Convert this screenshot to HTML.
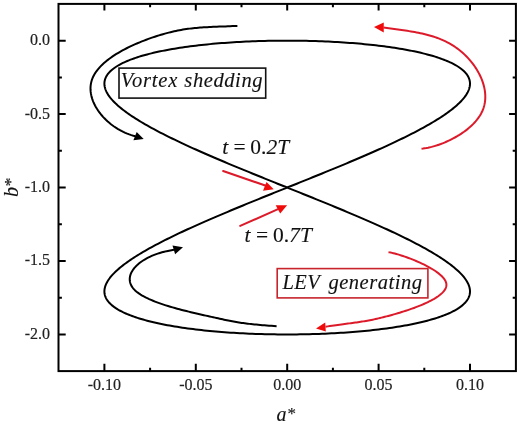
<!DOCTYPE html>
<html><head><meta charset="utf-8"><style>
html,body{margin:0;padding:0;background:#fff;}
svg{display:block;}
</style></head><body>
<svg width="520" height="424" viewBox="0 0 520 424">
<polyline points="287.20,40.65 290.39,40.66 293.58,40.67 296.77,40.70 299.95,40.74 303.13,40.79 306.31,40.85 309.48,40.92 312.64,41.01 315.80,41.10 318.94,41.21 322.08,41.33 325.21,41.45 328.32,41.59 331.42,41.74 334.51,41.91 337.59,42.08 340.65,42.26 343.69,42.46 346.71,42.66 349.72,42.88 352.71,43.11 355.68,43.35 358.63,43.60 361.55,43.86 364.45,44.13 367.33,44.42 370.19,44.71 373.02,45.01 375.82,45.33 378.60,45.66 381.35,45.99 384.07,46.34 386.76,46.70 389.42,47.07 392.05,47.45 394.65,47.84 397.21,48.24 399.74,48.65 402.24,49.08 404.70,49.51 407.13,49.95 409.52,50.41 411.87,50.87 414.18,51.35 416.46,51.83 418.70,52.33 420.89,52.83 423.05,53.35 425.16,53.88 427.23,54.41 429.26,54.96 431.25,55.52 433.19,56.08 435.09,56.66 436.94,57.25 438.75,57.84 440.51,58.45 442.22,59.07 443.89,59.69 445.51,60.33 447.08,60.98 448.60,61.63 450.08,62.30 451.50,62.97 452.87,63.66 454.20,64.35 455.47,65.05 456.69,65.76 457.86,66.49 458.98,67.22 460.04,67.96 461.05,68.71 462.01,69.46 462.92,70.23 463.77,71.01 464.57,71.79 465.31,72.58 466.01,73.39 466.64,74.20 467.22,75.02 467.75,75.85 468.22,76.68 468.64,77.53 469.00,78.38 469.30,79.24 469.55,80.11 469.75,80.99 469.89,81.88 469.97,82.77 470.00,83.68 469.97,84.59 469.89,85.50 469.75,86.43 469.55,87.36 469.30,88.31 469.00,89.25 468.64,90.21 468.22,91.17 467.75,92.15 467.22,93.12 466.64,94.11 466.01,95.10 465.31,96.10 464.57,97.11 463.77,98.12 462.92,99.14 462.01,100.17 461.05,101.20 460.04,102.24 458.98,103.29 457.86,104.34 456.69,105.40 455.47,106.47 454.20,107.54 452.87,108.62 451.50,109.70 450.08,110.79 448.60,111.89 447.08,112.99 445.51,114.10 443.89,115.21 442.22,116.33 440.51,117.46 438.75,118.58 436.94,119.72 435.09,120.86 433.19,122.00 431.25,123.15 429.26,124.31 427.23,125.47 425.16,126.63 423.05,127.80 420.89,128.97 418.70,130.15 416.46,131.33 414.18,132.52 411.87,133.71 409.52,134.91 407.13,136.10 404.70,137.31 402.24,138.51 399.74,139.72 397.21,140.94 394.65,142.16 392.05,143.38 389.42,144.60 386.76,145.83 384.07,147.06 381.35,148.29 378.60,149.53 375.82,150.77 373.02,152.01 370.19,153.26 367.33,154.50 364.45,155.76 361.55,157.01 358.63,158.26 355.68,159.52 352.71,160.78 349.72,162.04 346.71,163.30 343.69,164.57 340.65,165.84 337.59,167.11 334.51,168.38 331.42,169.65 328.32,170.92 325.21,172.19 322.08,173.47 318.94,174.75 315.80,176.02 312.64,177.30 309.48,178.58 306.31,179.86 303.13,181.14 299.95,182.42 296.77,183.70 293.58,184.99 290.39,186.27 287.20,187.55 284.01,188.83 280.82,190.11 277.63,191.40 274.45,192.68 271.27,193.96 268.09,195.24 264.92,196.52 261.76,197.80 258.60,199.08 255.46,200.35 252.32,201.63 249.19,202.91 246.08,204.18 242.98,205.45 239.89,206.72 236.81,207.99 233.75,209.26 230.71,210.53 227.69,211.80 224.68,213.06 221.69,214.32 218.72,215.58 215.77,216.84 212.85,218.09 209.95,219.34 207.07,220.60 204.21,221.84 201.38,223.09 198.58,224.33 195.80,225.57 193.05,226.81 190.33,228.04 187.64,229.27 184.98,230.50 182.35,231.72 179.75,232.94 177.19,234.16 174.66,235.38 172.16,236.59 169.70,237.79 167.27,239.00 164.88,240.19 162.53,241.39 160.22,242.58 157.94,243.77 155.70,244.95 153.51,246.13 151.35,247.30 149.24,248.47 147.17,249.63 145.14,250.79 143.15,251.95 141.21,253.10 139.31,254.24 137.46,255.38 135.65,256.52 133.89,257.64 132.18,258.77 130.51,259.89 128.89,261.00 127.32,262.11 125.80,263.21 124.32,264.31 122.90,265.40 121.53,266.48 120.20,267.56 118.93,268.63 117.71,269.70 116.54,270.76 115.42,271.81 114.36,272.86 113.35,273.90 112.39,274.93 111.48,275.96 110.63,276.98 109.83,277.99 109.09,279.00 108.39,280.00 107.76,280.99 107.18,281.98 106.65,282.95 106.18,283.93 105.76,284.89 105.40,285.85 105.10,286.79 104.85,287.74 104.65,288.67 104.51,289.60 104.43,290.51 104.40,291.42 104.43,292.33 104.51,293.22 104.65,294.11 104.85,294.99 105.10,295.86 105.40,296.72 105.76,297.57 106.18,298.42 106.65,299.25 107.18,300.08 107.76,300.90 108.39,301.71 109.09,302.52 109.83,303.31 110.63,304.09 111.48,304.87 112.39,305.64 113.35,306.39 114.36,307.14 115.42,307.88 116.54,308.61 117.71,309.34 118.93,310.05 120.20,310.75 121.53,311.44 122.90,312.13 124.32,312.80 125.80,313.47 127.32,314.12 128.89,314.77 130.51,315.41 132.18,316.03 133.89,316.65 135.65,317.26 137.46,317.85 139.31,318.44 141.21,319.02 143.15,319.58 145.14,320.14 147.17,320.69 149.24,321.22 151.35,321.75 153.51,322.27 155.70,322.77 157.94,323.27 160.22,323.75 162.53,324.23 164.88,324.69 167.27,325.15 169.70,325.59 172.16,326.02 174.66,326.45 177.19,326.86 179.75,327.26 182.35,327.65 184.98,328.03 187.64,328.40 190.33,328.76 193.05,329.11 195.80,329.44 198.58,329.77 201.38,330.09 204.21,330.39 207.07,330.68 209.95,330.97 212.85,331.24 215.77,331.50 218.72,331.75 221.69,331.99 224.68,332.22 227.69,332.44 230.71,332.64 233.75,332.84 236.81,333.02 239.89,333.19 242.98,333.36 246.08,333.51 249.19,333.65 252.32,333.77 255.46,333.89 258.60,334.00 261.76,334.09 264.92,334.18 268.09,334.25 271.27,334.31 274.45,334.36 277.63,334.40 280.82,334.43 284.01,334.44 287.20,334.45 290.39,334.44 293.58,334.43 296.77,334.40 299.95,334.36 303.13,334.31 306.31,334.25 309.48,334.18 312.64,334.09 315.80,334.00 318.94,333.89 322.08,333.77 325.21,333.65 328.32,333.51 331.42,333.36 334.51,333.19 337.59,333.02 340.65,332.84 343.69,332.64 346.71,332.44 349.72,332.22 352.71,331.99 355.68,331.75 358.63,331.50 361.55,331.24 364.45,330.97 367.33,330.68 370.19,330.39 373.02,330.09 375.82,329.77 378.60,329.44 381.35,329.11 384.07,328.76 386.76,328.40 389.42,328.03 392.05,327.65 394.65,327.26 397.21,326.86 399.74,326.45 402.24,326.02 404.70,325.59 407.13,325.15 409.52,324.69 411.87,324.23 414.18,323.75 416.46,323.27 418.70,322.77 420.89,322.27 423.05,321.75 425.16,321.22 427.23,320.69 429.26,320.14 431.25,319.58 433.19,319.02 435.09,318.44 436.94,317.85 438.75,317.26 440.51,316.65 442.22,316.03 443.89,315.41 445.51,314.77 447.08,314.12 448.60,313.47 450.08,312.80 451.50,312.13 452.87,311.44 454.20,310.75 455.47,310.05 456.69,309.34 457.86,308.61 458.98,307.88 460.04,307.14 461.05,306.39 462.01,305.64 462.92,304.87 463.77,304.09 464.57,303.31 465.31,302.52 466.01,301.71 466.64,300.90 467.22,300.08 467.75,299.25 468.22,298.42 468.64,297.57 469.00,296.72 469.30,295.86 469.55,294.99 469.75,294.11 469.89,293.22 469.97,292.33 470.00,291.42 469.97,290.51 469.89,289.60 469.75,288.67 469.55,287.74 469.30,286.79 469.00,285.85 468.64,284.89 468.22,283.93 467.75,282.95 467.22,281.98 466.64,280.99 466.01,280.00 465.31,279.00 464.57,277.99 463.77,276.98 462.92,275.96 462.01,274.93 461.05,273.90 460.04,272.86 458.98,271.81 457.86,270.76 456.69,269.70 455.47,268.63 454.20,267.56 452.87,266.48 451.50,265.40 450.08,264.31 448.60,263.21 447.08,262.11 445.51,261.00 443.89,259.89 442.22,258.77 440.51,257.64 438.75,256.52 436.94,255.38 435.09,254.24 433.19,253.10 431.25,251.95 429.26,250.79 427.23,249.63 425.16,248.47 423.05,247.30 420.89,246.13 418.70,244.95 416.46,243.77 414.18,242.58 411.87,241.39 409.52,240.19 407.13,239.00 404.70,237.79 402.24,236.59 399.74,235.38 397.21,234.16 394.65,232.94 392.05,231.72 389.42,230.50 386.76,229.27 384.07,228.04 381.35,226.81 378.60,225.57 375.82,224.33 373.02,223.09 370.19,221.84 367.33,220.60 364.45,219.34 361.55,218.09 358.63,216.84 355.68,215.58 352.71,214.32 349.72,213.06 346.71,211.80 343.69,210.53 340.65,209.26 337.59,207.99 334.51,206.72 331.42,205.45 328.32,204.18 325.21,202.91 322.08,201.63 318.94,200.35 315.80,199.08 312.64,197.80 309.48,196.52 306.31,195.24 303.13,193.96 299.95,192.68 296.77,191.40 293.58,190.11 290.39,188.83 287.20,187.55 284.01,186.27 280.82,184.99 277.63,183.70 274.45,182.42 271.27,181.14 268.09,179.86 264.92,178.58 261.76,177.30 258.60,176.02 255.46,174.75 252.32,173.47 249.19,172.19 246.08,170.92 242.98,169.65 239.89,168.38 236.81,167.11 233.75,165.84 230.71,164.57 227.69,163.30 224.68,162.04 221.69,160.78 218.72,159.52 215.77,158.26 212.85,157.01 209.95,155.76 207.07,154.50 204.21,153.26 201.38,152.01 198.58,150.77 195.80,149.53 193.05,148.29 190.33,147.06 187.64,145.83 184.98,144.60 182.35,143.38 179.75,142.16 177.19,140.94 174.66,139.72 172.16,138.51 169.70,137.31 167.27,136.10 164.88,134.91 162.53,133.71 160.22,132.52 157.94,131.33 155.70,130.15 153.51,128.97 151.35,127.80 149.24,126.63 147.17,125.47 145.14,124.31 143.15,123.15 141.21,122.00 139.31,120.86 137.46,119.72 135.65,118.58 133.89,117.46 132.18,116.33 130.51,115.21 128.89,114.10 127.32,112.99 125.80,111.89 124.32,110.79 122.90,109.70 121.53,108.62 120.20,107.54 118.93,106.47 117.71,105.40 116.54,104.34 115.42,103.29 114.36,102.24 113.35,101.20 112.39,100.17 111.48,99.14 110.63,98.12 109.83,97.11 109.09,96.10 108.39,95.10 107.76,94.11 107.18,93.12 106.65,92.15 106.18,91.17 105.76,90.21 105.40,89.25 105.10,88.31 104.85,87.36 104.65,86.43 104.51,85.50 104.43,84.59 104.40,83.68 104.43,82.77 104.51,81.88 104.65,80.99 104.85,80.11 105.10,79.24 105.40,78.38 105.76,77.53 106.18,76.68 106.65,75.85 107.18,75.02 107.76,74.20 108.39,73.39 109.09,72.58 109.83,71.79 110.63,71.01 111.48,70.23 112.39,69.46 113.35,68.71 114.36,67.96 115.42,67.22 116.54,66.49 117.71,65.76 118.93,65.05 120.20,64.35 121.53,63.66 122.90,62.97 124.32,62.30 125.80,61.63 127.32,60.98 128.89,60.33 130.51,59.69 132.18,59.07 133.89,58.45 135.65,57.84 137.46,57.25 139.31,56.66 141.21,56.08 143.15,55.52 145.14,54.96 147.17,54.41 149.24,53.88 151.35,53.35 153.51,52.83 155.70,52.33 157.94,51.83 160.22,51.35 162.53,50.87 164.88,50.41 167.27,49.95 169.70,49.51 172.16,49.08 174.66,48.65 177.19,48.24 179.75,47.84 182.35,47.45 184.98,47.07 187.64,46.70 190.33,46.34 193.05,45.99 195.80,45.66 198.58,45.33 201.38,45.01 204.21,44.71 207.07,44.42 209.95,44.13 212.85,43.86 215.77,43.60 218.72,43.35 221.69,43.11 224.68,42.88 227.69,42.66 230.71,42.46 233.75,42.26 236.81,42.08 239.89,41.91 242.98,41.74 246.08,41.59 249.19,41.45 252.32,41.33 255.46,41.21 258.60,41.10 261.76,41.01 264.92,40.92 268.09,40.85 271.27,40.79 274.45,40.74 277.63,40.70 280.82,40.67 284.01,40.66 287.20,40.65" fill="none" stroke="#000" stroke-width="2" stroke-linejoin="round"/>
<path d="M104.40,371.10V363.70 M104.40,3.90V10.50 M195.80,371.10V363.70 M195.80,3.90V10.50 M287.20,371.10V363.70 M287.20,3.90V10.50 M378.60,371.10V363.70 M378.60,3.90V10.50 M470.00,371.10V363.70 M470.00,3.90V10.50 M150.10,371.10V367.70 M150.10,3.90V7.30 M241.50,371.10V367.70 M241.50,3.90V7.30 M332.90,371.10V367.70 M332.90,3.90V7.30 M424.30,371.10V367.70 M424.30,3.90V7.30 M58.50,40.65H65.70 M515.90,40.65H509.10 M58.50,114.10H65.70 M515.90,114.10H509.10 M58.50,187.55H65.70 M515.90,187.55H509.10 M58.50,261.00H65.70 M515.90,261.00H509.10 M58.50,334.45H65.70 M515.90,334.45H509.10 M58.50,77.38H61.90 M515.90,77.38H512.70 M58.50,150.83H61.90 M515.90,150.83H512.70 M58.50,224.28H61.90 M515.90,224.28H512.70 M58.50,297.72H61.90 M515.90,297.72H512.70" stroke="#000" stroke-width="2" fill="none"/>
<rect x="58.50" y="3.90" width="457.40" height="367.20" fill="none" stroke="#000" stroke-width="2"/>
<g font-family="Liberation Serif, serif" font-size="16" fill="#222" stroke="#222" stroke-width="0.18"><text x="50.1" y="45.05" text-anchor="end">0.0</text><text x="50.1" y="118.50" text-anchor="end">-0.5</text><text x="50.1" y="191.95" text-anchor="end">-1.0</text><text x="50.1" y="265.40" text-anchor="end">-1.5</text><text x="50.1" y="338.85" text-anchor="end">-2.0</text><text x="104.40" y="390.3" text-anchor="middle">-0.10</text><text x="195.80" y="390.3" text-anchor="middle">-0.05</text><text x="287.20" y="390.3" text-anchor="middle">0.00</text><text x="378.60" y="390.3" text-anchor="middle">0.05</text><text x="470.00" y="390.3" text-anchor="middle">0.10</text></g>
<text x="276.5" y="420.9" font-family="Liberation Serif, serif" font-size="20" fill="#111" stroke="#111" stroke-width="0.12"><tspan font-style="italic">a</tspan><tspan font-size="17" dx="0.9" dy="-1.6">*</tspan></text>
<text transform="translate(17.9,196.9) rotate(-90)" font-family="Liberation Serif, serif" font-size="20" fill="#111" stroke="#111" stroke-width="0.12"><tspan font-style="italic">b</tspan><tspan font-size="17" dx="0.6" dy="-1.6">*</tspan></text>
<path d="M237.40,25.90 L234.90,26.01 L232.47,26.11 L230.09,26.20 L227.78,26.29 L225.52,26.38 L223.32,26.46 L221.16,26.54 L219.06,26.62 L217.00,26.70 L214.98,26.78 L213.00,26.87 L211.06,26.95 L209.15,27.05 L207.28,27.14 L205.43,27.25 L203.61,27.36 L201.82,27.48 L200.05,27.60 L198.29,27.74 L196.55,27.89 L194.83,28.05 L193.11,28.23 L191.40,28.42 L189.70,28.62 L188.00,28.84 L186.30,29.08 L184.60,29.34 L182.89,29.61 L181.17,29.91 L179.45,30.22 L177.71,30.56 L175.95,30.92 L174.17,31.31 L172.37,31.72 L170.55,32.16 L168.70,32.62 L166.82,33.12 L164.91,33.64 L162.96,34.19 L160.98,34.77 L158.96,35.39 L156.90,36.04 L154.81,36.71 L152.70,37.42 L150.56,38.16 L148.41,38.93 L146.24,39.73 L144.06,40.56 L141.87,41.42 L139.68,42.31 L137.48,43.23 L135.30,44.18 L133.12,45.15 L130.95,46.16 L128.80,47.19 L126.66,48.25 L124.55,49.34 L122.47,50.46 L120.42,51.60 L118.41,52.77 L116.43,53.97 L114.50,55.19 L112.61,56.44 L110.78,57.71 L108.99,59.01 L107.27,60.34 L105.61,61.69 L104.01,63.06 L102.49,64.46 L101.04,65.89 L99.66,67.33 L98.37,68.81 L97.16,70.30 L96.04,71.82 L95.02,73.36 L94.09,74.93 L93.26,76.51 L92.54,78.12 L91.92,79.76 L91.42,81.41 L91.03,83.08 L90.75,84.77 L90.57,86.48 L90.50,88.19 L90.53,89.92 L90.67,91.66 L90.90,93.39 L91.22,95.14 L91.64,96.88 L92.15,98.61 L92.75,100.35 L93.43,102.07 L94.20,103.78 L95.04,105.49 L95.97,107.17 L96.97,108.84 L98.05,110.48 L99.19,112.11 L100.41,113.70 L101.69,115.27 L103.04,116.81 L104.44,118.31 L105.91,119.78 L107.43,121.21 L109.01,122.60 L110.64,123.94 L112.32,125.24 L114.05,126.49 L115.82,127.69 L117.64,128.84 L119.50,129.93 L121.39,130.95 L123.32,131.92 L125.28,132.83 L127.27,133.67 L129.29,134.43 L131.34,135.13 L133.41,135.75 L135.50,136.30" fill="none" stroke="#000" stroke-width="2.0"/>
<polygon points="136.70,132.10 133.40,140.30 143.70,139.00" fill="#000"/>
<path d="M421.50,148.80 L423.10,148.61 L424.75,148.36 L426.42,148.07 L428.13,147.73 L429.87,147.34 L431.64,146.90 L433.43,146.41 L435.23,145.88 L437.06,145.31 L438.89,144.69 L440.74,144.03 L442.59,143.32 L444.44,142.58 L446.29,141.79 L448.14,140.96 L449.98,140.09 L451.80,139.18 L453.62,138.23 L455.41,137.25 L457.19,136.23 L458.94,135.17 L460.66,134.07 L462.35,132.94 L464.01,131.78 L465.63,130.59 L467.21,129.36 L468.74,128.10 L470.23,126.80 L471.67,125.48 L473.05,124.13 L474.37,122.75 L475.63,121.34 L476.83,119.90 L477.96,118.44 L479.02,116.94 L480.00,115.43 L480.91,113.89 L481.74,112.32 L482.48,110.74 L483.13,109.13 L483.70,107.49 L484.17,105.84 L484.56,104.17 L484.87,102.49 L485.09,100.79 L485.23,99.08 L485.29,97.35 L485.28,95.62 L485.19,93.88 L485.02,92.14 L484.79,90.39 L484.48,88.64 L484.10,86.89 L483.65,85.14 L483.14,83.40 L482.57,81.66 L481.93,79.92 L481.23,78.20 L480.47,76.49 L479.66,74.79 L478.79,73.10 L477.87,71.43 L476.89,69.78 L475.86,68.15 L474.79,66.53 L473.66,64.95 L472.49,63.38 L471.28,61.85 L470.03,60.34 L468.73,58.86 L467.40,57.42 L466.03,56.00 L464.62,54.63 L463.19,53.29 L461.71,51.99 L460.21,50.73 L458.68,49.52 L457.13,48.35 L455.54,47.22 L453.94,46.14 L452.31,45.12 L450.66,44.13 L448.99,43.20 L447.30,42.30 L445.60,41.45 L443.87,40.64 L442.13,39.87 L440.37,39.13 L438.60,38.44 L436.82,37.78 L435.02,37.15 L433.21,36.55 L431.39,35.99 L429.56,35.45 L427.73,34.95 L425.88,34.47 L424.03,34.01 L422.17,33.58 L420.31,33.17 L418.44,32.79 L416.57,32.42 L414.70,32.07 L412.82,31.74 L410.95,31.42 L409.08,31.12 L407.21,30.83 L405.34,30.56 L403.48,30.29 L401.62,30.03 L399.76,29.78 L397.92,29.53 L396.08,29.29 L394.25,29.05 L392.43,28.81 L390.62,28.58 L388.82,28.34 L387.03,28.10 L385.26,27.85 L383.50,27.60" fill="none" stroke="#dc1a2a" stroke-width="2.0"/>
<polygon points="383.75,22.60 383.75,32.40 374.00,27.00" fill="#f00a0a"/>
<path d="M276.60,326.20 L273.97,326.02 L271.45,325.84 L269.03,325.67 L266.70,325.49 L264.47,325.32 L262.32,325.14 L260.26,324.97 L258.27,324.79 L256.36,324.61 L254.52,324.43 L252.74,324.25 L251.03,324.07 L249.37,323.88 L247.76,323.70 L246.20,323.50 L244.68,323.31 L243.20,323.11 L241.76,322.90 L240.35,322.69 L238.96,322.48 L237.59,322.26 L236.24,322.03 L234.90,321.80 L233.56,321.56 L232.23,321.31 L230.90,321.05 L229.57,320.79 L228.22,320.52 L226.86,320.24 L225.48,319.95 L224.07,319.65 L222.64,319.34 L221.17,319.02 L219.67,318.69 L218.13,318.35 L216.54,317.99 L214.90,317.63 L213.21,317.25 L211.45,316.86 L209.64,316.45 L207.76,316.04 L205.82,315.61 L203.82,315.16 L201.77,314.70 L199.68,314.23 L197.54,313.74 L195.37,313.24 L193.16,312.73 L190.92,312.19 L188.66,311.65 L186.39,311.09 L184.09,310.51 L181.79,309.92 L179.48,309.31 L177.17,308.69 L174.87,308.05 L172.57,307.40 L170.29,306.73 L168.02,306.04 L165.77,305.33 L163.55,304.61 L161.37,303.87 L159.22,303.12 L157.10,302.35 L155.04,301.56 L153.02,300.75 L151.06,299.92 L149.15,299.08 L147.31,298.22 L145.54,297.34 L143.84,296.44 L142.21,295.52 L140.67,294.59 L139.21,293.63 L137.85,292.66 L136.58,291.67 L135.40,290.65 L134.34,289.62 L133.38,288.57 L132.53,287.50 L131.80,286.41 L131.19,285.30 L130.68,284.18 L130.28,283.04 L129.99,281.89 L129.81,280.74 L129.73,279.57 L129.76,278.40 L129.89,277.23 L130.11,276.06 L130.44,274.88 L130.87,273.71 L131.39,272.54 L132.01,271.38 L132.72,270.23 L133.52,269.08 L134.42,267.95 L135.40,266.83 L136.47,265.73 L137.63,264.64 L138.87,263.57 L140.19,262.53 L141.60,261.50 L143.09,260.50 L144.65,259.53 L146.29,258.59 L148.01,257.68 L149.80,256.80 L151.67,255.95 L153.60,255.14 L155.61,254.37 L157.68,253.64 L159.83,252.95 L162.03,252.30 L164.30,251.70 L166.64,251.15 L169.03,250.65 L171.49,250.20 L174.00,249.80" fill="none" stroke="#000" stroke-width="2.0"/>
<polygon points="172.50,245.40 175.10,254.20 183.00,247.30" fill="#000"/>
<path d="M388.50,252.20 L389.56,252.37 L390.72,252.59 L391.99,252.87 L393.34,253.19 L394.77,253.55 L396.29,253.96 L397.87,254.41 L399.52,254.91 L401.22,255.44 L402.98,256.01 L404.78,256.62 L406.61,257.27 L408.48,257.95 L410.37,258.66 L412.28,259.41 L414.20,260.18 L416.13,260.99 L418.05,261.82 L419.97,262.67 L421.86,263.55 L423.74,264.45 L425.59,265.38 L427.40,266.32 L429.17,267.28 L430.89,268.26 L432.56,269.25 L434.16,270.26 L435.70,271.28 L437.16,272.31 L438.54,273.35 L439.83,274.40 L441.02,275.46 L442.12,276.52 L443.10,277.58 L443.98,278.65 L444.72,279.72 L445.35,280.78 L445.83,281.85 L446.18,282.91 L446.38,283.96 L446.42,285.01 L446.33,286.05 L446.09,287.09 L445.72,288.12 L445.21,289.14 L444.59,290.15 L443.84,291.15 L442.98,292.15 L442.01,293.13 L440.94,294.11 L439.77,295.07 L438.50,296.02 L437.15,296.96 L435.72,297.89 L434.20,298.81 L432.62,299.71 L430.97,300.60 L429.25,301.48 L427.48,302.34 L425.66,303.19 L423.80,304.02 L421.89,304.84 L419.94,305.64 L417.97,306.42 L415.97,307.19 L413.95,307.94 L411.91,308.67 L409.87,309.39 L407.82,310.09 L405.77,310.76 L403.73,311.42 L401.70,312.06 L399.69,312.68 L397.70,313.27 L395.73,313.85 L393.80,314.40 L391.90,314.93 L390.05,315.44 L388.24,315.93 L386.49,316.39 L384.79,316.83 L383.14,317.25 L381.54,317.65 L379.98,318.02 L378.45,318.38 L376.96,318.72 L375.51,319.05 L374.08,319.36 L372.68,319.65 L371.30,319.93 L369.94,320.20 L368.59,320.45 L367.26,320.70 L365.93,320.93 L364.61,321.16 L363.29,321.38 L361.97,321.59 L360.64,321.80 L359.30,322.00 L357.96,322.20 L356.59,322.40 L355.21,322.59 L353.81,322.79 L352.37,322.98 L350.91,323.18 L349.42,323.38 L347.89,323.58 L346.33,323.79 L344.71,324.01 L343.06,324.23 L341.35,324.46 L339.59,324.70 L337.77,324.95 L335.90,325.20 L333.96,325.48 L331.95,325.76 L329.88,326.06 L327.73,326.37 L325.50,326.70" fill="none" stroke="#dc1a2a" stroke-width="2.0"/>
<polygon points="325.20,322.60 325.80,331.40 316.00,328.50" fill="#f00a0a"/>
<path d="M223.1,171 L266,185.8" stroke="#dc1a2a" stroke-width="2" stroke-linecap="round"/>
<polygon points="266.50,182.00 263.00,190.80 273.70,189.20" fill="#f00a0a"/>
<path d="M240.2,225.9 L278,209.2" stroke="#dc1a2a" stroke-width="2" stroke-linecap="round"/>
<polygon points="275.70,205.20 280.20,213.40 287.10,205.20" fill="#f00a0a"/>
<rect x="119" y="68.1" width="146.7" height="30" fill="#fff" stroke="#111" stroke-width="1.6"/>
<g font-family="Liberation Serif, serif" font-style="italic" font-size="20.5" fill="#111" stroke="#111" stroke-width="0.12"><text x="120.8" y="87.4" letter-spacing="0.83">Vortex</text><text x="184.35" y="87.4" letter-spacing="0.586">shedding</text></g>
<rect x="277.2" y="268.6" width="150.7" height="29.3" fill="#fff" stroke="#c8242c" stroke-width="1.6"/>
<g font-family="Liberation Serif, serif" font-style="italic" font-size="20.5" fill="#111" stroke="#111" stroke-width="0.12"><text x="282.55" y="288.6" letter-spacing="0.35">LEV</text><text x="328.4" y="288.6" letter-spacing="0.539">generating</text></g>
<text x="222.2" y="154.4" font-family="Liberation Serif, serif" font-size="21.5" fill="#111" stroke="#111" stroke-width="0.12"><tspan font-style="italic">t</tspan> = <tspan dx="-0.8">0.</tspan><tspan font-style="italic">2T</tspan></text>
<text x="244.6" y="241.5" font-family="Liberation Serif, serif" font-size="21.5" fill="#111" stroke="#111" stroke-width="0.12"><tspan font-style="italic">t</tspan> = <tspan dx="-0.4">0.</tspan><tspan font-style="italic">7T</tspan></text>
</svg>
</body></html>
